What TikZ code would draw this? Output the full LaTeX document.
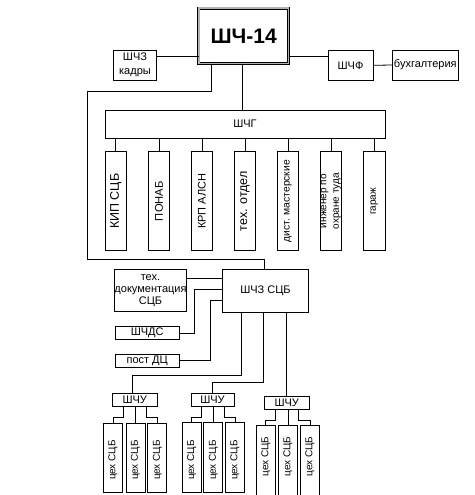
\documentclass[tikz,border=0pt]{standalone}
\usepackage{fontspec}
\setmainfont{Liberation Sans}
\begin{document}
\begin{tikzpicture}[x=1pt,y=-1pt,
  every path/.style={line width=0.75pt},
  box/.style={draw=black, line width=0.8pt, inner sep=0pt, align=center,
    font=\fontsize{11}{12.5}\selectfont, fill=white},
  vbox/.style={box, minimum width=21.7pt, minimum height=99pt},
  vtext/.style={rotate=90, inner sep=0pt, align=center, font=\fontsize{10}{12}\selectfont},
  conn/.style={draw=black, line width=0.8pt}
]
\useasboundingbox (0,0) rectangle (474,495);
\fill[white] (0,0) rectangle (474,495);

% top level
\node[draw=black, line width=0.6pt, double=gray!60, double distance=1.8pt,
  inner sep=0pt, minimum width=89.7pt, minimum height=55.3pt,
  font=\fontsize{21}{24}\selectfont\bfseries] (sh14) at (243.7,35.8) {ШЧ-14};
\node[box, minimum width=43.4pt, minimum height=30pt, font=\fontsize{11}{14}\selectfont] (kadry) at (135,65) {ШЧЗ\\кадры};
\node[box, minimum width=45pt, minimum height=29.3pt] (shf) at (350.5,65.3) {ШЧФ};
\node[box, minimum width=65.3pt, minimum height=30pt] (buh) at (425.3,65) {бухгалтерия};

\coordinate (yA) at (0,56);
\draw[conn] (kadry.east |- yA) -- (sh14.west |- yA);
\draw[conn] (sh14.east |- yA) -- (shf.west |- yA);
\draw[conn] (shf.east) -- (buh.west);

% ШЧГ
\node[box, minimum width=280pt, minimum height=28.3pt] (shg) at (245,124.2) {ШЧГ};
\coordinate (xB) at (242.7,0);
\draw[conn] (sh14.south -| xB) -- (shg.north -| xB);

\node[vbox] (g1) at (115.8,201.2) {};
\node[vtext, font=\fontsize{12.5}{14}\selectfont] (t1) at (g1.center) {КИП СЦБ};
\node[vbox] (g2) at (158.9,201.2) {};
\node[vtext, font=\fontsize{11.2}{14}\selectfont] (t2) at (g2.center) {ПОНАБ};
\node[vbox] (g3) at (201.9,201.2) {};
\node[vtext, font=\fontsize{11}{14}\selectfont] (t3) at (g3.center) {КРП АЛСН};
\node[vbox] (g4) at (245.0,201.2) {};
\node[vtext, font=\fontsize{12.5}{14}\selectfont] (t4) at (g4.center) {тех. отдел};
\node[vbox] (g5) at (288.0,201.2) {};
\node[vtext, font=\fontsize{10.3}{14}\selectfont] (t5) at (g5.center) {дист. мастерские};
\node[vbox] (g6) at (331.0,201.2) {};
\node[vtext, font=\fontsize{10}{12.4}\selectfont] (t6) at (g6.center) {инженер по\\охране туда};
\node[vbox] (g7) at (374.1,201.2) {};
\node[vtext] (t7) at (g7.center) {гараж};
\foreach \g in {g1,g2,g3,g4,g5,g6,g7}
  \draw[conn] (\g.north) -- (\g.north |- shg.south);

% ШЧЗ СЦБ
\node[box, minimum width=85.6pt, minimum height=43pt] (szs) at (265.5,290.8) {ШЧЗ СЦБ};
\coordinate (xC) at (211.7,0);
\coordinate (c1) at (211.7,91.7);
\coordinate (c2) at (87.3,91.7);
\coordinate (c3) at (87.3,259.3);
\coordinate (c4) at (264.3,259.3);
\draw[conn] (sh14.south -| xC) -- (c1) -- (c2) -- (c3) -- (c4) -- (szs.north -| c4);

\node[box, minimum width=71pt, minimum height=42.4pt, font=\fontsize{11}{12.2}\selectfont] (tdoc) at (150.5,290.5) {тех.\\документация\\СЦБ};
\node[box, minimum width=64.3pt, minimum height=12.6pt] (shds) at (147.2,333) {ШЧДС};
\node[box, minimum width=64.3pt, minimum height=13pt] (post) at (147.2,360.8) {пост ДЦ};

\coordinate (yD) at (0,278.3);
\draw[conn] (tdoc.east |- yD) -- (szs.west |- yD);
\coordinate (d1) at (194.5,289.3);
\draw[conn] (shds.east) -| (d1) -- (szs.west |- d1);
\coordinate (d2) at (210.3,300.7);
\draw[conn] (post.east) -| (d2) -- (szs.west |- d2);

% ШЧУ
\node[box, minimum width=44.7pt, minimum height=12.7pt] (u1) at (134.7,399.7) {ШЧУ};
\node[box, minimum width=43pt, minimum height=13.4pt] (u2) at (212.5,400) {ШЧУ};
\node[box, minimum width=44.5pt, minimum height=13.4pt] (u3) at (286.7,403) {ШЧУ};

\coordinate (e1) at (241,375);
\coordinate (e2) at (263.3,382.7);
\coordinate (e3) at (286.7,0);
\draw[conn] (szs.south -| e1) -- (e1) -| ([xshift=-2pt]u1.north);
\draw[conn] (szs.south -| e2) -- (e2) -| (u2.north);
\draw[conn] (szs.south -| e3) -- (u3.north -| e3);

% цех СЦБ
\tikzset{cbox/.style={box, minimum width=19pt, minimum height=69.3pt}}
\node[cbox] (a1) at (113,457.7) {};
\node[cbox] (a2) at (135.5,457.7) {};
\node[cbox] (a3) at (157.3,457.7) {};
\node[cbox] (b1) at (191.7,457.5) {};
\node[cbox] (b2) at (213.3,457.5) {};
\node[cbox] (b3) at (235,457.5) {};
\node[box, minimum width=19pt, minimum height=80pt] (d1b) at (265.8,465) {};
\node[box, minimum width=19pt, minimum height=80pt] (d2b) at (288,465) {};
\node[box, minimum width=19pt, minimum height=80pt] (d3b) at (310,465) {};

\foreach \n/\y in {a1/460,a2/460,a3/460,b1/460,b2/460,b3/460,d1b/456.5,d2b/456.5,d3b/456.5}
  \node[vtext] (t\n) at (\n.center |- 0,\y) {цех СЦБ};

\foreach \u/\l/\m/\r in {u1/a1/a2/a3,u2/b1/b2/b3,u3/d1b/d2b/d3b}{
  \draw[conn] ([xshift=-11pt]\u.south) -- ++(0,10.5) -| (\l.north);
  \draw[conn] (\m.north |- \u.south) -- (\m.north);
  \draw[conn] ([xshift=12pt]\u.south) -- ++(0,10.5) -| (\r.north);
}
\end{tikzpicture}
\end{document}
